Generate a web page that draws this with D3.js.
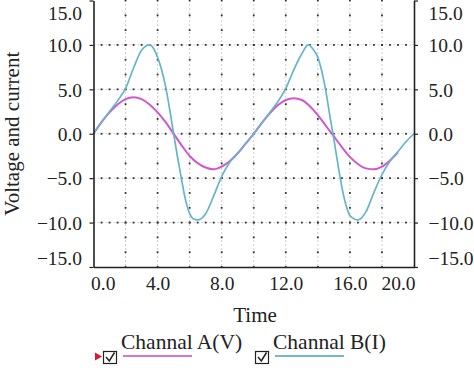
<!DOCTYPE html>
<html>
<head>
<meta charset="utf-8">
<script src="https://cdn.jsdelivr.net/npm/d3@7"></script>
<style>
  body { margin: 0; background: #fff; }
  svg { display: block; }
</style>
</head>
<body>
<script>
// channel A (voltage)
const timeA = [0, 0.5, 1, 1.5, 2, 2.5, 3, 3.5, 4, 4.5, 5, 5.5, 6, 6.5, 7, 7.5, 8, 8.5, 9, 9.5,
  10, 10.5, 11, 11.5, 12, 12.5, 13, 13.5, 14, 14.5, 15, 15.5, 16, 16.5, 17, 17.5, 18, 18.5, 19];
const voltA = [0, 1.3, 2.4, 3.3, 3.9, 4.1, 3.9, 3.3, 2.4, 1.3, 0, -1.3, -2.5, -3.3, -3.8, -4.0, -3.7, -3.1, -2.2, -1.1,
  0, 1.2, 2.3, 3.2, 3.8, 4.0, 3.8, 3.1, 2.1, 0.9, -0.3, -1.5, -2.6, -3.4, -3.9, -4.0, -3.7, -3.0, -2.1];

// channel B (current)
const timeB = [0, 0.5, 1, 1.5, 2, 2.5, 3, 3.5, 3.75, 4, 4.25, 4.5, 4.75, 5, 5.25, 5.5, 5.75, 6, 6.25, 6.5,
  7, 7.5, 8, 8.5, 9, 9.5, 10, 10.5, 11, 11.5, 12, 12.5, 13, 13.4, 13.75, 14, 14.25, 14.5, 14.75, 15,
  15.25, 15.5, 15.75, 16, 16.5, 17, 17.5, 18, 18.5, 19, 19.5, 20];
const currB = [0, 1.3, 2.5, 3.7, 5.1, 7.4, 9.4, 10.0, 9.6, 8.6, 7.2, 5.3, 2.8, 0, -2.7, -5.2, -7.5, -9.0, -9.6, -9.7,
  -9.0, -7.0, -4.8, -3.2, -2.2, -1.1, 0, 1.2, 2.4, 3.6, 5.1, 7.2, 9.0, 10.0, 9.4, 8.6, 7.0, 4.8, 2.0, -0.6,
  -3.4, -6.0, -8.0, -9.2, -9.7, -8.8, -6.6, -4.6, -3.1, -2.0, -0.9, 0];

const xTickVals = [0, 4, 8, 12, 16, 20];
const yTickVals = [-15, -10, -5, 0, 5, 10, 15];
const xGridVals = [2, 4, 6, 8, 10, 12, 14, 16, 18];
const yGridVals = [-10, -5, 0, 5, 10];
const legendLabels = ["Channal A(V)", "Channal B(I)"];
const colorA = "#cf58cf";
const colorB = "#66b5ca";

const width = 474, height = 370;
const plotLeft = 93.5, plotRight = 414, plotTop = 0.5, plotBottom = 267;
const font = "'Liberation Serif', 'DejaVu Serif', serif";

const svg = d3.select("body").append("svg")
  .attr("width", width)
  .attr("height", height)
  .style("font-family", font);

const x = d3.scaleLinear([0, 20], [plotLeft, plotRight]);
const y = d3.scaleLinear([-15, 15], [plotBottom, plotTop]);
const fmt = d => (d < 0 ? "\u2212" : "") + Math.abs(d).toFixed(1);

// grid
const grid = svg.append("g");
grid.selectAll(".hg").data(yGridVals).join("line")
  .attr("x1", plotLeft).attr("x2", plotRight)
  .attr("y1", d => y(d)).attr("y2", d => y(d))
  .attr("stroke", "#cdcdcd").attr("stroke-dasharray", "2,2");
grid.selectAll(".vg").data(xGridVals).join("line")
  .attr("x1", d => x(d)).attr("x2", d => x(d))
  .attr("y1", 0).attr("y2", plotBottom)
  .attr("stroke", "#cdcdcd").attr("stroke-dasharray", "2,2");

// dark dots along the grid lines
const hDots = yGridVals.flatMap(v => d3.range(0.5, 20, 0.5).map(t => [t, v]));
const vDots = xGridVals.flatMap(t => d3.range(-15, 15.01, 5 / 3).map(v => [t, v]));
grid.selectAll(".dot").data(hDots.concat(vDots)).join("rect")
  .attr("x", d => x(d[0]) - 0.9).attr("y", d => y(d[1]) - 0.9)
  .attr("width", 1.8).attr("height", 1.8)
  .attr("fill", "#333");

// series
const line = d3.line().curve(d3.curveMonotoneX);
svg.append("path")
  .datum(d3.zip(timeA, voltA))
  .attr("fill", "none").attr("stroke", colorA).attr("stroke-width", 2)
  .attr("d", line.x(d => x(d[0])).y(d => y(d[1])));
svg.append("path")
  .datum(d3.zip(timeB, currB))
  .attr("fill", "none").attr("stroke", colorB).attr("stroke-width", 1.7)
  .attr("d", line.x(d => x(d[0])).y(d => y(d[1])));

// axes
const styleAxis = g => {
  g.select(".domain").attr("stroke", "#222").attr("stroke-width", 1.6);
  g.selectAll(".tick line").attr("stroke", "#222").attr("stroke-width", 1.2);
  g.selectAll("text").attr("font-family", font).attr("font-size", 19.5).attr("fill", "#222");
};

svg.append("g")
  .attr("transform", `translate(${plotLeft},0)`)
  .call(d3.axisLeft(y).tickValues(yTickVals).tickSize(4).tickSizeOuter(0).tickPadding(7.5).tickFormat(fmt))
  .call(styleAxis)
  .call(g => g.selectAll("text").attr("dy", d => d === 15 ? "0.95em" : d === -15 ? "-0.15em" : "0.35em"));

svg.append("g")
  .attr("transform", `translate(${plotRight},0)`)
  .call(d3.axisRight(y).tickValues(yTickVals).tickSize(4).tickSizeOuter(0).tickPadding(10.5).tickFormat(fmt))
  .call(styleAxis)
  .call(g => g.selectAll("text").attr("dy", d => d === 15 ? "0.95em" : d === -15 ? "-0.15em" : "0.35em"));

svg.append("g")
  .attr("transform", `translate(0,${plotBottom})`)
  .call(d3.axisBottom(x).tickValues(xTickVals).tickSize(0).tickSizeOuter(0).tickPadding(9.5).tickFormat(fmt))
  .call(styleAxis)
  .call(g => g.selectAll("text")
    .attr("text-anchor", d => d === 0 ? "start" : d === 20 ? "end" : "middle")
    .attr("dx", d => d === 0 ? -3 : d === 20 ? 1 : 0));

// axis titles
svg.append("text")
  .attr("transform", `translate(19,${(plotTop + plotBottom) / 2}) rotate(-90)`)
  .attr("text-anchor", "middle")
  .attr("font-size", 21).attr("fill", "#222")
  .text("Voltage and current");

svg.append("text")
  .attr("x", 255).attr("y", 322)
  .attr("text-anchor", "middle")
  .attr("font-size", 21).attr("fill", "#222")
  .text("Time");

// legend
const legendX = [103, 255];
const legendColors = ["#d07ad2", "#74b9cb"];
const legend = svg.append("g").selectAll("g").data(legendLabels).join("g")
  .attr("transform", (d, i) => `translate(${legendX[i]},0)`);
legend.append("rect")
  .attr("x", 0.5).attr("y", 351.5).attr("width", 13).attr("height", 12)
  .attr("fill", "none").attr("stroke", "#222").attr("stroke-width", 1.2);
legend.append("path")
  .attr("d", "M3,357 L6.3,361 L11.5,352.5")
  .attr("fill", "none").attr("stroke", "#222").attr("stroke-width", 1.5);
legend.append("text")
  .attr("x", 18).attr("y", 348.5)
  .attr("font-size", 21.5).attr("fill", "#222")
  .text(d => d);
legend.append("line")
  .attr("x1", 20).attr("x2", 89).attr("y1", 356).attr("y2", 356)
  .attr("stroke", (d, i) => legendColors[i]).attr("stroke-width", 2);

// red marker in front of the first entry
svg.append("path")
  .attr("d", "M95,352.5 L102,356.5 L95,360.5 Z")
  .attr("fill", "#d21f2b");
</script>
</body>
</html>
